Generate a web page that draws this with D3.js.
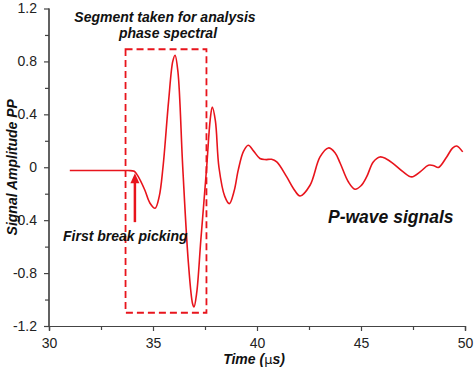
<!DOCTYPE html>
<html>
<head>
<meta charset="utf-8">
<script src="https://cdn.jsdelivr.net/npm/d3@7"></script>
<style>
  body { margin: 0; background: #fff; }
  svg { display: block; }
  .tick-label { font-family: "Liberation Sans", Arial, sans-serif; font-size: 14px; fill: #222; }
  .note { font-family: "Liberation Sans", Arial, sans-serif; font-weight: bold; font-style: italic; fill: #111; }
</style>
</head>
<body>
<div id="graph"></div>
<script>
// Time (us) and amplitude
var timeValues = [31.0, 32.0, 33.0, 33.8, 34.1, 34.25, 34.6, 34.85, 35.1, 35.3, 35.48, 35.75, 35.95, 36.06, 36.2,
                  36.43, 36.7, 36.9, 36.97, 37.1, 37.3, 37.58, 37.75, 37.85, 38.0, 38.17, 38.45, 38.67, 38.9,
                  39.1, 39.35, 39.58, 39.85, 40.14, 40.4, 40.7, 40.95, 41.43, 41.75, 42.07, 42.55, 43.03, 43.43,
                  43.75, 44.0, 44.39, 44.71, 45.0, 45.27, 45.59, 45.91, 46.2, 46.55, 47.03, 47.44, 47.84, 48.24,
                  48.5, 48.72, 49.12, 49.4, 49.6, 49.89];
var ampValues  = [-0.025, -0.025, -0.025, -0.025, -0.03, -0.06, -0.17, -0.27, -0.31, -0.22, 0.0, 0.5, 0.8, 0.847, 0.72,
                  0.0, -0.72, -1.03, -1.056, -0.95, -0.55, 0.0, 0.36, 0.456, 0.35, 0.0, -0.22, -0.275, -0.18,
                  -0.02, 0.12, 0.166, 0.12, 0.066, 0.058, 0.06, 0.04, -0.073, -0.16, -0.217, -0.136, 0.078, 0.146,
                  0.11, 0.03, -0.11, -0.166, -0.14, -0.073, 0.04, 0.078, 0.065, 0.028, -0.035, -0.073, -0.035, 0.015,
                  0.012, -0.002, 0.078, 0.145, 0.161, 0.116];

// Axis ticks
var xMajorTicks = [30, 35, 40, 45, 50];
var xMinorTicks = [32.5, 37.5, 42.5, 47.5];
var yMajorTicks = [1.2, 0.8, 0.4, 0, -0.4, -0.8, -1.2];
var yMajorLabels = ["1.2", "0.8", "0.4", "0", "-0.4", "-0.8", "-1.2"];
var yMinorTicks = [1.0, 0.6, 0.2, -0.2, -0.6, -1.0];

// Annotated segment and first-break pick
var segmentTime = [33.68, 37.57];
var segmentAmp = [0.892, -1.10];
var pickTime = 34.13;
var pickAmp = [-0.415, -0.045];

var CanvasInfo = { width: 474, height: 372, id: "#graph" };
var Margin = { left: 49, right: 9, top: 8.5, bottom: 46 };
var red = "#e8141c";
var axisColor = "#444";

var svg = d3.select(CanvasInfo.id).append("svg")
            .attr("width", CanvasInfo.width)
            .attr("height", CanvasInfo.height);

var xScale = d3.scaleLinear().domain([30, 50])
               .range([Margin.left, CanvasInfo.width - Margin.right]);
var yScale = d3.scaleLinear().domain([-1.2, 1.2])
               .range([CanvasInfo.height - Margin.bottom, Margin.top]);

var plotBottom = yScale(-1.2);

// X axis
var xAxis = svg.append("g").attr("transform", "translate(0," + plotBottom + ")");
xAxis.call(d3.axisBottom(xScale).tickValues(xMajorTicks).tickSize(5).tickFormat(d3.format("d")));
xAxis.append("g").call(d3.axisBottom(xScale).tickValues(xMinorTicks).tickSize(4).tickFormat(""));

// Y axis
var yAxis = svg.append("g").attr("transform", "translate(" + Margin.left + ",0)");
yAxis.call(d3.axisLeft(yScale).tickValues(yMajorTicks).tickSize(5)
             .tickFormat(function(d, i) { return yMajorLabels[i]; }));
yAxis.append("g").call(d3.axisLeft(yScale).tickValues(yMinorTicks).tickSize(4).tickFormat(""));

svg.selectAll(".domain").attr("stroke", axisColor).attr("stroke-width", 1.2);
svg.selectAll(".tick line").attr("stroke", axisColor).attr("stroke-width", 1.2);
svg.selectAll(".tick text").attr("class", "tick-label").attr("font-size", null).attr("font-family", null);
xAxis.selectAll(".tick text").attr("dy", null).attr("y", 22);
yAxis.selectAll(".tick text").attr("x", -12);
yAxis.selectAll(".domain").attr("d", "M0," + yScale(1.2) + "V" + plotBottom);

// Axis titles
svg.append("text").attr("class", "note")
   .attr("transform", "translate(17," + yScale(0) + ") rotate(-90)")
   .attr("text-anchor", "middle")
   .style("font-size", "14px")
   .text("Signal Amplitude PP");

var timeTitle = svg.append("text").attr("class", "note")
   .attr("x", xScale(40) - 3).attr("y", 364)
   .attr("text-anchor", "middle")
   .style("font-size", "14px");
timeTitle.append("tspan").text("Time (");
timeTitle.append("tspan").style("font-style", "normal").style("font-weight", "normal")
         .style("font-family", "'DejaVu Sans', sans-serif").style("font-size", "13px").text("\u03bc");
timeTitle.append("tspan").text("s)");

// Segment box
svg.append("rect")
   .attr("x", xScale(segmentTime[0]))
   .attr("y", yScale(segmentAmp[0]))
   .attr("width", xScale(segmentTime[1]) - xScale(segmentTime[0]))
   .attr("height", yScale(segmentAmp[1]) - yScale(segmentAmp[0]))
   .attr("fill", "none")
   .attr("stroke", red)
   .attr("stroke-width", 1.8)
   .attr("stroke-dasharray", "7,4");

// Signal trace
var data = timeValues.map(function(t, i) { return { x: t, y: ampValues[i] }; });
var line = d3.line()
             .x(function(p) { return xScale(p.x); })
             .y(function(p) { return yScale(p.y); })
             .curve(d3.curveCatmullRom.alpha(0.5));
svg.append("path")
   .datum(data)
   .attr("fill", "none")
   .attr("stroke", red)
   .attr("stroke-width", 1.6)
   .attr("d", line);

// First break arrow
var ax = xScale(pickTime);
var tipY = yScale(pickAmp[1]);
svg.append("line")
   .attr("x1", ax).attr("x2", ax)
   .attr("y1", yScale(pickAmp[0])).attr("y2", tipY + 8)
   .attr("stroke", red).attr("stroke-width", 2.5);
svg.append("path")
   .attr("d", "M" + ax + "," + tipY + "L" + (ax - 4.5) + "," + (tipY + 10) + "L" + (ax + 4.5) + "," + (tipY + 10) + "Z")
   .attr("fill", red);

// Notes
svg.append("text").attr("class", "note").attr("x", 165).attr("y", 22)
   .attr("text-anchor", "middle").style("font-size", "14px").text("Segment taken for analysis");
svg.append("text").attr("class", "note").attr("x", 168).attr("y", 38)
   .attr("text-anchor", "middle").style("font-size", "14px").text("phase spectral");
svg.append("text").attr("class", "note").attr("x", 63).attr("y", 241)
   .style("font-size", "14px").text("First break picking");
svg.append("text").attr("class", "note").attr("x", 328).attr("y", 223)
   .style("font-size", "17.5px").text("P-wave signals");
</script>
</body>
</html>
